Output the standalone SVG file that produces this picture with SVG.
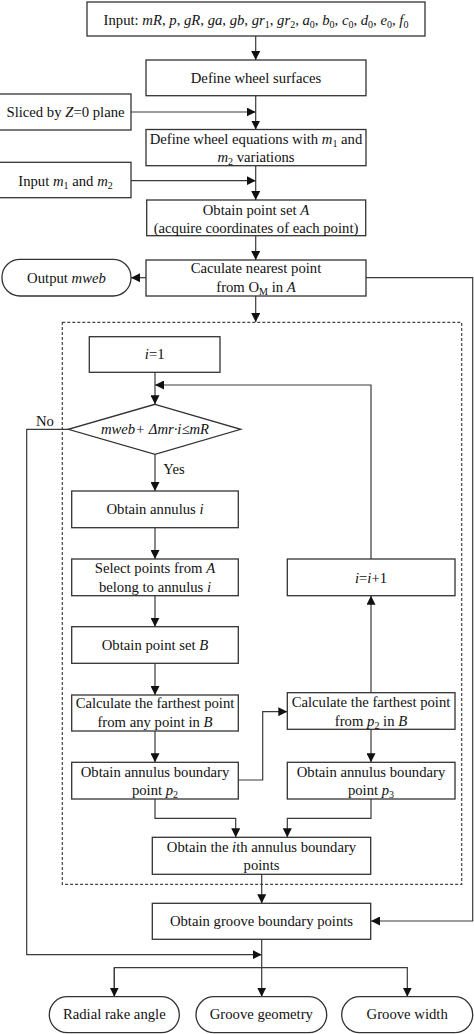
<svg xmlns="http://www.w3.org/2000/svg" width="474" height="1034" viewBox="0 0 474 1034">
<defs>
<style>
text{font-family:"Liberation Serif","Times New Roman",serif;font-size:14.7px;fill:#111;text-anchor:middle}
.it{font-style:italic}
.sb{font-size:10px}
.box{fill:#fff;stroke:#333;stroke-width:1.3}
.ln{fill:none;stroke:#3a3a3a;stroke-width:1.2}
.dash{fill:none;stroke:#444;stroke-width:1.2;stroke-dasharray:3 2}
</style>
<marker id="ah" viewBox="0 0 10 10" refX="10" refY="5" markerWidth="9" markerHeight="9" markerUnits="userSpaceOnUse" orient="auto">
<path d="M0,0 L10,5 L0,10 z" fill="#111"/>
</marker>
</defs>
<rect width="474" height="1034" fill="#fff"/>

<rect class="dash" x="62.3" y="322.3" width="399.4" height="562"/>

<g id="connectors">
<line class="ln" x1="255.7" y1="36" x2="255.7" y2="60" marker-end="url(#ah)"/>
<line class="ln" x1="255.7" y1="95.7" x2="255.7" y2="129.5" marker-end="url(#ah)"/>
<line class="ln" x1="131" y1="112" x2="255.7" y2="112" marker-end="url(#ah)"/>
<line class="ln" x1="255.7" y1="165.7" x2="255.7" y2="200" marker-end="url(#ah)"/>
<line class="ln" x1="131" y1="180.7" x2="255.7" y2="180.7" marker-end="url(#ah)"/>
<line class="ln" x1="255.7" y1="235.7" x2="255.7" y2="260" marker-end="url(#ah)"/>
<line class="ln" x1="146" y1="277.7" x2="131" y2="277.7" marker-end="url(#ah)"/>
<line class="ln" x1="255.7" y1="296" x2="255.7" y2="322" marker-end="url(#ah)"/>
<polyline class="ln" points="366,277.7 472.7,277.7 472.7,921 371,921" marker-end="url(#ah)"/>
<line class="ln" x1="155" y1="372.3" x2="155" y2="404.3" marker-end="url(#ah)"/>
<polyline class="ln" points="371,559 371,385 155,385" marker-end="url(#ah)"/>
<polyline class="ln" points="68.3,429.3 26.7,429.3 26.7,954.7 261.7,954.7" marker-end="url(#ah)"/>
<line class="ln" x1="155" y1="454.3" x2="155" y2="491" marker-end="url(#ah)"/>
<line class="ln" x1="155" y1="527.7" x2="155" y2="559" marker-end="url(#ah)"/>
<line class="ln" x1="155" y1="595.7" x2="155" y2="626.7" marker-end="url(#ah)"/>
<line class="ln" x1="155" y1="663.3" x2="155" y2="695" marker-end="url(#ah)"/>
<line class="ln" x1="155" y1="731" x2="155" y2="762.3" marker-end="url(#ah)"/>
<polyline class="ln" points="238.3,780 262.7,780 262.7,711.7 287.3,711.7" marker-end="url(#ah)"/>
<line class="ln" x1="371" y1="692.7" x2="371" y2="595.7" marker-end="url(#ah)"/>
<line class="ln" x1="371" y1="729.3" x2="371" y2="762.3" marker-end="url(#ah)"/>
<polyline class="ln" points="155,799 155,818.3 235.7,818.3 235.7,837.3" marker-end="url(#ah)"/>
<polyline class="ln" points="371,799 371,818.3 287.3,818.3 287.3,837.3" marker-end="url(#ah)"/>
<line class="ln" x1="261.7" y1="874.3" x2="261.7" y2="903.3" marker-end="url(#ah)"/>
<line class="ln" x1="261.7" y1="939.3" x2="261.7" y2="996.7" marker-end="url(#ah)"/>
<polyline class="ln" points="114.3,996.7 114.3,967.7 407.3,967.7 407.3,996.7" marker-end="url(#ah)"/>
<line class="ln" x1="114.3" y1="967.7" x2="114.3" y2="996.7" marker-end="url(#ah)"/>
</g>

<g id="n-input">
<rect class="box" x="87" y="2" width="338" height="34"/>
<text x="256" y="24.5">Input: <tspan class="it">mR</tspan>, <tspan class="it">p</tspan>, <tspan class="it">gR</tspan>, <tspan class="it">ga</tspan>, <tspan class="it">gb</tspan>, <tspan class="it">gr</tspan><tspan class="sb" dy="3">1</tspan><tspan dy="-3">, </tspan><tspan class="it">gr</tspan><tspan class="sb" dy="3">2</tspan><tspan dy="-3">, </tspan><tspan class="it">a</tspan><tspan class="sb" dy="3">0</tspan><tspan dy="-3">, </tspan><tspan class="it">b</tspan><tspan class="sb" dy="3">0</tspan><tspan dy="-3">, </tspan><tspan class="it">c</tspan><tspan class="sb" dy="3">0</tspan><tspan dy="-3">, </tspan><tspan class="it">d</tspan><tspan class="sb" dy="3">0</tspan><tspan dy="-3">, </tspan><tspan class="it">e</tspan><tspan class="sb" dy="3">0</tspan><tspan dy="-3">, </tspan><tspan class="it">f</tspan><tspan class="sb" dy="3">0</tspan></text>
</g>

<g id="n-surfaces">
<rect class="box" x="146" y="60" width="220" height="35.7"/>
<text x="256" y="82.7">Define wheel surfaces</text>
</g>

<g id="n-sliced">
<rect class="box" x="-1" y="94" width="132" height="36"/>
<text x="65.5" y="117">Sliced by <tspan class="it">Z</tspan>=0 plane</text>
</g>

<g id="n-equations">
<rect class="box" x="146" y="129.5" width="220" height="36.2"/>
<text x="256" y="143.5">Define wheel equations with <tspan class="it">m</tspan><tspan class="sb" dy="3">1</tspan><tspan dy="-3"> and</tspan></text>
<text x="256" y="161.7"><tspan class="it">m</tspan><tspan class="sb" dy="3">2</tspan><tspan dy="-3"> variations</tspan></text>
</g>

<g id="n-inputm">
<rect class="box" x="-1" y="162.3" width="132" height="35.4"/>
<text x="65.5" y="185.7">Input <tspan class="it">m</tspan><tspan class="sb" dy="3">1</tspan><tspan dy="-3"> and </tspan><tspan class="it">m</tspan><tspan class="sb" dy="3">2</tspan></text>
</g>

<g id="n-setA">
<rect class="box" x="146.7" y="200" width="219" height="35.7"/>
<text x="256" y="215">Obtain point set <tspan class="it">A</tspan></text>
<text x="256" y="232.7">(acquire coordinates of each point)</text>
</g>

<g id="n-nearest">
<rect class="box" x="146" y="260" width="220" height="36"/>
<text x="256" y="273.3">Caculate nearest point</text>
<text x="256" y="291.7">from O<tspan class="sb" dy="3">M</tspan><tspan dy="-3"> in </tspan><tspan class="it">A</tspan></text>
</g>

<g id="n-mweb">
<rect class="box" x="2" y="259.3" width="129" height="36.7" rx="18" ry="18"/>
<text x="66.5" y="282.7">Output <tspan class="it">mweb</tspan></text>
</g>

<g id="n-i1">
<rect class="box" x="89.3" y="336.7" width="130.7" height="35.6"/>
<text x="154.7" y="359.3" class="it">i<tspan font-style="normal">=1</tspan></text>
</g>

<g id="n-cond">
<polygon class="box" points="155,404.3 240.7,429.3 155,454.3 68.3,429.3"/>
<text x="155" y="434.3" class="it">mweb+ Δmr·i≤mR</text>
<text x="45" y="425.7">No</text>
<text x="174" y="474">Yes</text>
</g>

<g id="n-annulus">
<rect class="box" x="71.7" y="491" width="166.6" height="36.7"/>
<text x="155" y="514.3">Obtain annulus <tspan class="it">i</tspan></text>
</g>

<g id="n-select">
<rect class="box" x="71.7" y="559" width="166.6" height="36.7"/>
<text x="155" y="573.3">Select points from <tspan class="it">A</tspan></text>
<text x="155" y="591.7">belong to annulus <tspan class="it">i</tspan></text>
</g>

<g id="n-setB">
<rect class="box" x="71.7" y="626.7" width="166.6" height="36.6"/>
<text x="155" y="650">Obtain point set <tspan class="it">B</tspan></text>
</g>

<g id="n-inc">
<rect class="box" x="287.3" y="559" width="167.7" height="36.7"/>
<text x="371" y="582.7"><tspan class="it">i</tspan>=<tspan class="it">i</tspan>+1</text>
</g>

<g id="n-far1">
<rect class="box" x="71.7" y="695" width="166.6" height="36"/>
<text x="155" y="708.3">Calculate the farthest point</text>
<text x="155" y="726.7">from any point in <tspan class="it">B</tspan></text>
</g>

<g id="n-far2">
<rect class="box" x="287.3" y="692.7" width="167.7" height="36.6"/>
<text x="371" y="707.3">Calculate the farthest point</text>
<text x="371" y="725.7">from <tspan class="it">p</tspan><tspan class="sb" dy="3">2</tspan><tspan dy="-3"> in </tspan><tspan class="it">B</tspan></text>
</g>

<g id="n-p2">
<rect class="box" x="71.7" y="762.3" width="166.6" height="36.7"/>
<text x="155" y="776.7">Obtain annulus boundary</text>
<text x="155" y="795">point <tspan class="it">p</tspan><tspan class="sb" dy="3">2</tspan></text>
</g>

<g id="n-p3">
<rect class="box" x="287.3" y="762.3" width="167.7" height="36.7"/>
<text x="371" y="776.7">Obtain annulus boundary</text>
<text x="371" y="795">point <tspan class="it">p</tspan><tspan class="sb" dy="3">3</tspan></text>
</g>

<g id="n-ith">
<rect class="box" x="152.3" y="837.3" width="218.4" height="37"/>
<text x="261.5" y="852.3">Obtain the <tspan class="it">i</tspan>th annulus boundary</text>
<text x="261.5" y="870">points</text>
</g>

<g id="n-groove">
<rect class="box" x="152.3" y="903.3" width="218.4" height="36"/>
<text x="261.5" y="926">Obtain groove boundary points</text>
</g>

<g id="n-rake">
<rect class="box" x="49.3" y="996.7" width="130" height="36" rx="18" ry="18"/>
<text x="114.3" y="1019.3">Radial rake angle</text>
</g>

<g id="n-geometry">
<rect class="box" x="196" y="996.7" width="130.7" height="36" rx="18" ry="18"/>
<text x="261.3" y="1019.3">Groove geometry</text>
</g>

<g id="n-width">
<rect class="box" x="341.7" y="996.7" width="131" height="36" rx="18" ry="18"/>
<text x="407.2" y="1019.3">Groove width</text>
</g>
</svg>
